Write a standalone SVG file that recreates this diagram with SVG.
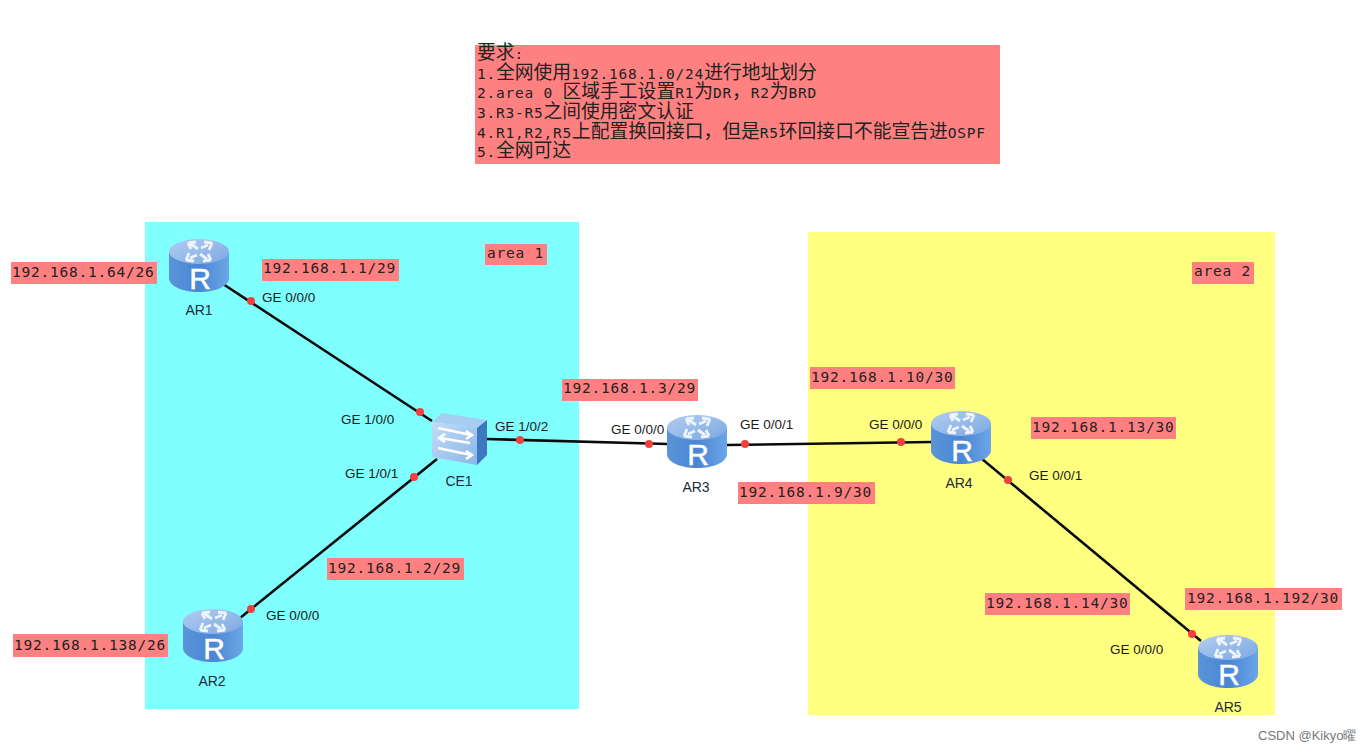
<svg xmlns="http://www.w3.org/2000/svg" width="1371" height="753" viewBox="0 0 1371 753">
<style>
.lab{fill:#ff8080}
.ip{font-family:"DejaVu Sans Mono","Liberation Mono",monospace;font-size:14.5px;letter-spacing:.77px;fill:#222}
.port,.name{font-family:"Liberation Sans",Arial,sans-serif;font-size:13.5px;fill:#1a1a1a}
.name{font-size:14px;fill:#1c2c3c}
.link{stroke:#0a0a0a;stroke-width:2.6;fill:none}
.dot{fill:#f04040}
.req{font-family:"Noto Sans CJK SC","Noto Sans",sans-serif;font-size:18.8px;fill:#222}
.m{font-family:"DejaVu Sans Mono","Liberation Mono",monospace;font-size:14.5px;letter-spacing:.77px}
.rr{font-family:"Liberation Sans",Arial,sans-serif;font-size:30px;fill:#fff;stroke:#fff;stroke-width:.5}
.wm{font-family:"Liberation Sans",Arial,sans-serif;font-size:13px;fill:#777}
.ra{fill:none;stroke:#eef4fd;stroke-width:2.8}
</style>
<defs>
<linearGradient id="rb" x1="0" x2="1" y1="0" y2="0"><stop offset="0" stop-color="#5b94d8"/><stop offset=".5" stop-color="#4a86d4"/><stop offset="1" stop-color="#6ba6e6"/></linearGradient>
<linearGradient id="rt" x1="0" x2="1" y1="0" y2="1"><stop offset="0" stop-color="#b3cdf0"/><stop offset="1" stop-color="#7ba8e2"/></linearGradient>
<linearGradient id="sf" x1="0" x2="1" y1="0" y2="1"><stop offset="0" stop-color="#c4dcf6"/><stop offset="1" stop-color="#88b6ea"/></linearGradient>
<g id="router">
<path d="M-30-13V13C-30 21-17 27 0 27S30 21 30 13V-13Z" fill="url(#rb)"/>
<ellipse cx="0" cy="-13.5" rx="30" ry="12.5" fill="url(#rt)"/>
<path class="ra" d="M-1-16-8-21M-11-22-3-23M-11-22-8-16M1-11 8-6M12-5 4-4M12-5 9-11M2-17 9-20M13-22 5-23M13-22 10-15M-2-10-9-7M-13-5-5-4M-13-5-10-12"/>
<text class="rr" x="1" y="24" text-anchor="middle">R</text>
</g>
</defs>
<rect width="1371" height="753" fill="#fff"/>
<rect x="145" y="222" width="434" height="487" fill="#80ffff"/>
<rect x="808" y="232" width="467" height="483" fill="#ffff80"/>
<g id="connectors">
<path class="link" d="M223 284 432 421"/>
<path class="link" d="M437 459 240 618"/>
<path class="link" d="M486 439 668 444"/>
<path class="link" d="M727 445 932 442"/>
<path class="link" d="M982 459 1201 641"/>
<g class="dot">
<circle cx="251" cy="301" r="4"/><circle cx="420" cy="412" r="4"/><circle cx="414" cy="477" r="4"/><circle cx="251" cy="609" r="4"/><circle cx="520" cy="440" r="4"/><circle cx="649" cy="444" r="4"/><circle cx="745" cy="444" r="4"/><circle cx="901" cy="442" r="4"/><circle cx="1008" cy="480" r="4"/><circle cx="1192" cy="634" r="4"/>
</g>
</g>
<g id="requirements">
<rect class="lab" x="475" y="45" width="525" height="119"/>
<text class="req" x="477" y="59">要求<tspan class="m">:</tspan></text>
<text class="req" x="477" y="79"><tspan class="m">1.</tspan>全网使用<tspan class="m">192.168.1.0/24</tspan>进行地址划分</text>
<text class="req" x="477" y="98"><tspan class="m">2.area 0 </tspan>区域手工设置<tspan class="m">R1</tspan>为<tspan class="m">DR</tspan>&#xFF0C;<tspan class="m">R2</tspan>为<tspan class="m">BRD</tspan></text>
<text class="req" x="477" y="118"><tspan class="m">3.R3-R5</tspan>之间使用密文认证</text>
<text class="req" x="477" y="138"><tspan class="m">4.R1,R2,R5</tspan>上配置换回接口&#xFF0C;但是<tspan class="m">R5</tspan>环回接口不能宣告进<tspan class="m">OSPF</tspan></text>
<text class="req" x="477" y="157"><tspan class="m">5.</tspan>全网可达</text>
</g>
<g id="AR1"><use href="#router" x="199" y="265"/><text class="name" x="199" y="315" text-anchor="middle">AR1</text></g>
<g id="AR2"><use href="#router" x="213" y="635"/><text class="name" x="212" y="686" text-anchor="middle">AR2</text></g>
<g id="AR3"><use href="#router" x="697" y="441"/><text class="name" x="696" y="492" text-anchor="middle">AR3</text></g>
<g id="AR4"><use href="#router" x="961" y="437"/><text class="name" x="959" y="488" text-anchor="middle">AR4</text></g>
<g id="AR5"><use href="#router" x="1228" y="661"/><text class="name" x="1228" y="712" text-anchor="middle">AR5</text></g>
<g id="CE1">
<polygon points="432,422 442,413 487,420 477,428" fill="#a8cdf2"/>
<polygon points="477,428 487,420 487,455 477,465" fill="#3d78bd"/>
<polygon points="432,422 477,428 477,465 432,457" fill="url(#sf)"/>
<g fill="none" stroke="#fff" stroke-width="2.6"><path d="M438 428 471 435M466 431 472 435 466 439M470 443 440 438M445 434 439 438 445 442M438 448 471 455M466 451 472 455 466 459"/></g>
<text class="name" x="459" y="486" text-anchor="middle">CE1</text>
</g>
<g id="labels">
<rect class="lab" x="11" y="262" width="146" height="22"/><text class="ip" x="12" y="277">192.168.1.64/26</text>
<rect class="lab" x="262" y="259" width="137" height="22"/><text class="ip" x="263" y="273">192.168.1.1/29</text>
<rect class="lab" x="485" y="244" width="62" height="21"/><text class="ip" x="487" y="258">area 1</text>
<rect class="lab" x="1192" y="262" width="62" height="22"/><text class="ip" x="1194" y="276">area 2</text>
<rect class="lab" x="562" y="379" width="136" height="22"/><text class="ip" x="563" y="393">192.168.1.3/29</text>
<rect class="lab" x="810" y="367" width="145" height="22"/><text class="ip" x="811" y="382">192.168.1.10/30</text>
<rect class="lab" x="1031" y="417" width="145" height="22"/><text class="ip" x="1032" y="432">192.168.1.13/30</text>
<rect class="lab" x="738" y="482" width="137" height="22"/><text class="ip" x="739" y="497">192.168.1.9/30</text>
<rect class="lab" x="327" y="558" width="137" height="22"/><text class="ip" x="328" y="573">192.168.1.2/29</text>
<rect class="lab" x="985" y="593" width="145" height="22"/><text class="ip" x="986" y="608">192.168.1.14/30</text>
<rect class="lab" x="1185" y="588" width="157" height="22"/><text class="ip" x="1187" y="603">192.168.1.192/30</text>
<rect class="lab" x="13" y="634" width="155" height="23"/><text class="ip" x="14" y="650">192.168.1.138/26</text>
<text class="port" x="262" y="302">GE 0/0/0</text>
<text class="port" x="341" y="424">GE 1/0/0</text>
<text class="port" x="345" y="478">GE 1/0/1</text>
<text class="port" x="495" y="431">GE 1/0/2</text>
<text class="port" x="266" y="620">GE 0/0/0</text>
<text class="port" x="611" y="434">GE 0/0/0</text>
<text class="port" x="740" y="429">GE 0/0/1</text>
<text class="port" x="869" y="429">GE 0/0/0</text>
<text class="port" x="1029" y="480">GE 0/0/1</text>
<text class="port" x="1110" y="654">GE 0/0/0</text>
</g>
<text class="wm" x="1258" y="740">CSDN @Kikyo曜</text>
</svg>
